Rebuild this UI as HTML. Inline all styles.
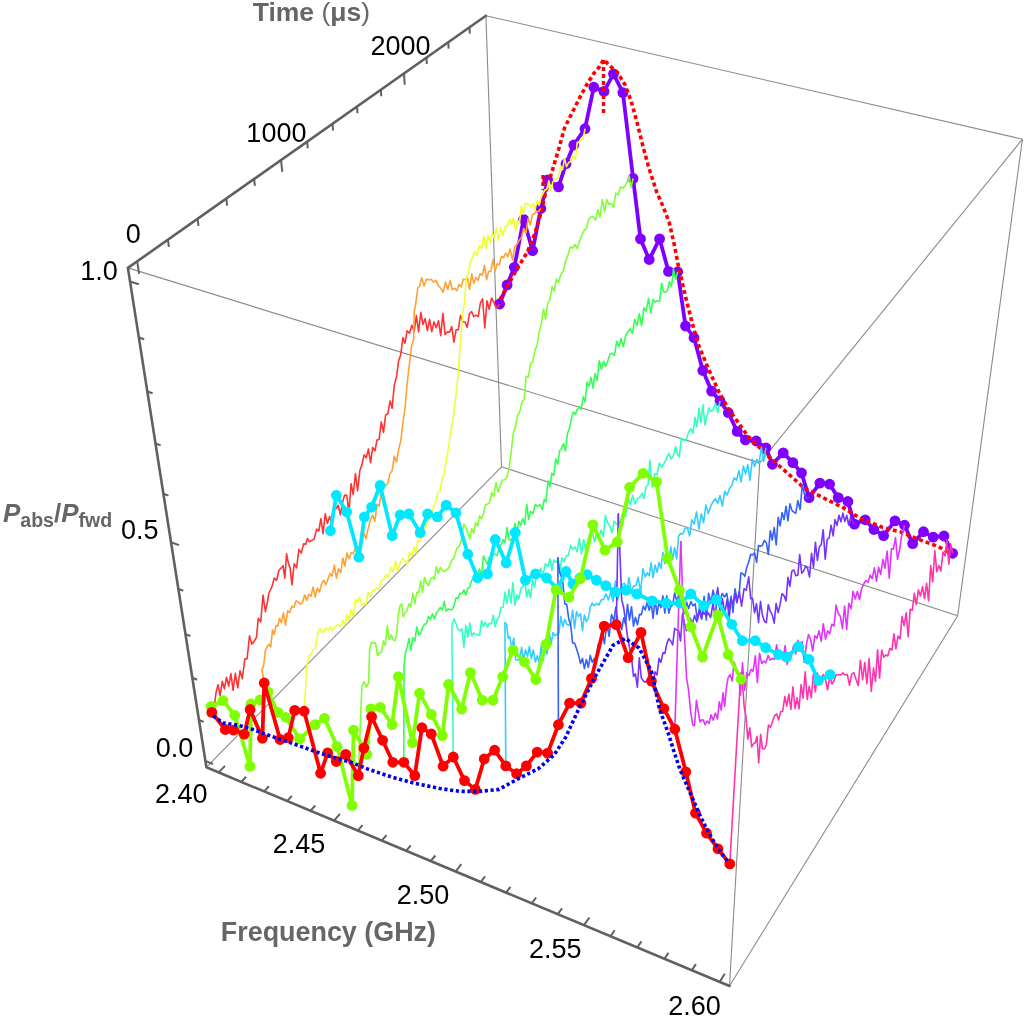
<!DOCTYPE html>
<html><head><meta charset="utf-8"><style>
html,body{margin:0;padding:0;background:#fff;}
svg{display:block;}
.tl{font-family:"Liberation Sans",Arial,sans-serif;font-size:27px;fill:#000;}
.al{font-family:"Liberation Sans",Arial,sans-serif;font-size:26.5px;font-weight:bold;fill:#666;}
.sub{font-size:19.5px;font-style:normal;}
</style></head><body>
<svg width="1025" height="1019" viewBox="0 0 1025 1019">
<rect width="1025" height="1019" fill="#fff"/>
<g stroke="#8a8a8a" stroke-width="1.1" fill="none"><line x1="127.9" y1="267.9" x2="759.7" y2="462.9"/><line x1="759.7" y1="462.9" x2="1022.4" y2="139.2"/><line x1="759.7" y1="462.9" x2="729.5" y2="986.0"/><line x1="485.9" y1="15.7" x2="1022.4" y2="139.2"/><line x1="485.9" y1="15.7" x2="501.5" y2="466.8"/><line x1="1022.4" y1="139.2" x2="957.7" y2="615.7"/><line x1="729.5" y1="986.0" x2="957.7" y2="615.7"/><line x1="501.5" y1="466.8" x2="957.7" y2="615.7"/><line x1="501.5" y1="466.8" x2="206.4" y2="767.3"/></g>
<polyline points="499.6,304.0 507.1,285.0 514.3,267.3 523.6,219.3 532.6,250.7 540.8,208.5 547.7,180.0 558.5,186.9 566.0,163.7 573.8,145.0 585.0,128.7 593.8,87.1 604.0,91.4 613.5,73.8 622.9,92.6 633.1,178.4 640.5,238.9 649.2,259.5 659.6,238.9 668.5,271.4 677.7,271.8 685.5,326.0 694.0,337.7 702.8,370.5 711.6,391.1 720.0,401.0 728.3,412.7 737.2,431.4 745.4,439.9 756.2,441.0 765.9,447.9 772.4,464.3 783.2,452.9 792.9,462.6 801.5,473.0 809.1,497.6 819.9,483.1 829.6,484.2 838.2,497.6 847.9,501.5 854.4,524.1 865.2,519.8 873.9,529.5 883.6,535.6 895.0,520.9 904.5,525.2 912.7,543.6 923.5,531.7 933.2,537.1 944.0,536.0 952.6,553.3" fill="none" stroke="#7f00ff" stroke-width="3.8" stroke-linejoin="round"/>
<g fill="#7f00ff"><circle cx="499.6" cy="304.0" r="5.4"/><circle cx="507.1" cy="285.0" r="5.4"/><circle cx="514.3" cy="267.3" r="5.4"/><circle cx="523.6" cy="219.3" r="5.4"/><circle cx="532.6" cy="250.7" r="5.4"/><circle cx="540.8" cy="208.5" r="5.4"/><circle cx="547.7" cy="180.0" r="5.4"/><circle cx="558.5" cy="186.9" r="5.4"/><circle cx="566.0" cy="163.7" r="5.4"/><circle cx="573.8" cy="145.0" r="5.4"/><circle cx="585.0" cy="128.7" r="5.4"/><circle cx="593.8" cy="87.1" r="5.4"/><circle cx="604.0" cy="91.4" r="5.4"/><circle cx="613.5" cy="73.8" r="5.4"/><circle cx="622.9" cy="92.6" r="5.4"/><circle cx="633.1" cy="178.4" r="5.4"/><circle cx="640.5" cy="238.9" r="5.4"/><circle cx="649.2" cy="259.5" r="5.4"/><circle cx="659.6" cy="238.9" r="5.4"/><circle cx="668.5" cy="271.4" r="5.4"/><circle cx="677.7" cy="271.8" r="5.4"/><circle cx="685.5" cy="326.0" r="5.4"/><circle cx="694.0" cy="337.7" r="5.4"/><circle cx="702.8" cy="370.5" r="5.4"/><circle cx="711.6" cy="391.1" r="5.4"/><circle cx="720.0" cy="401.0" r="5.4"/><circle cx="728.3" cy="412.7" r="5.4"/><circle cx="737.2" cy="431.4" r="5.4"/><circle cx="745.4" cy="439.9" r="5.4"/><circle cx="756.2" cy="441.0" r="5.4"/><circle cx="765.9" cy="447.9" r="5.4"/><circle cx="772.4" cy="464.3" r="5.4"/><circle cx="783.2" cy="452.9" r="5.4"/><circle cx="792.9" cy="462.6" r="5.4"/><circle cx="801.5" cy="473.0" r="5.4"/><circle cx="809.1" cy="497.6" r="5.4"/><circle cx="819.9" cy="483.1" r="5.4"/><circle cx="829.6" cy="484.2" r="5.4"/><circle cx="838.2" cy="497.6" r="5.4"/><circle cx="847.9" cy="501.5" r="5.4"/><circle cx="854.4" cy="524.1" r="5.4"/><circle cx="865.2" cy="519.8" r="5.4"/><circle cx="873.9" cy="529.5" r="5.4"/><circle cx="883.6" cy="535.6" r="5.4"/><circle cx="895.0" cy="520.9" r="5.4"/><circle cx="904.5" cy="525.2" r="5.4"/><circle cx="912.7" cy="543.6" r="5.4"/><circle cx="923.5" cy="531.7" r="5.4"/><circle cx="933.2" cy="537.1" r="5.4"/><circle cx="944.0" cy="536.0" r="5.4"/><circle cx="952.6" cy="553.3" r="5.4"/></g>
<polyline points="500.0,299.7 507.5,286.0 517.3,268.3 527.1,252.6 535.0,233.0 540.8,213.4 545.8,191.8 552.6,169.5 558.5,149.9 564.4,128.3 572.2,112.6 580.1,96.9 587.0,84.2 593.8,73.4 599.7,66.5 603.6,59.6 609.5,65.5 617.4,72.4 625.2,85.1 631.1,100.8 637.0,122.4 642.9,146.0 648.8,167.6 656.6,191.8 663.5,207.5 669.4,223.2 674.3,244.8 678.3,265.5 685.1,295.0 692.0,322.4 698.9,346.0 708.7,369.5 718.5,391.1 728.3,408.8 738.1,422.5 748.0,436.3 768.1,456.1 785.3,471.2 804.8,488.5 826.4,499.3 843.6,507.9 860.9,518.7 882.5,527.4 899.8,531.7 921.3,540.3 938.6,546.8 950.5,553.3" fill="none" stroke="#ff0000" stroke-width="3.6" stroke-dasharray="4 3"/>
<path d="M603.5,60 L603.5,113 M543,175 L543,190" stroke="#ff0000" stroke-width="3.4" stroke-dasharray="4 3"/>
<polyline points="211.8,712.4 214.1,707.9 215.9,693.3 218.0,684.7 220.1,695.6 222.3,681.2 224.4,688.9 226.5,677.2 228.7,686.0 230.9,673.6 233.1,690.3 235.3,673.4 237.7,687.8 240.0,670.7 242.4,678.7 244.8,659.1 247.1,658.6 249.5,635.8 251.8,644.1 254.2,641.4 256.5,637.2 258.3,618.2 260.7,621.9 263.0,595.1 265.4,611.7 267.1,603.8 268.9,593.0 270.7,589.5 272.4,585.4 274.2,578.1 276.6,580.4 278.9,570.3 281.3,567.9 283.1,565.7 284.8,578.1 286.6,553.9 288.4,563.4 290.1,568.0 291.9,584.8 294.2,563.8 296.6,567.8 298.9,549.3 301.2,553.1 303.6,543.9 305.6,544.4 307.5,538.4 309.5,541.9 311.9,540.2 314.2,539.1 316.6,529.1 318.8,531.0 320.9,518.5 323.1,533.7 325.2,513.7 327.4,523.4 329.6,516.6 331.7,523.6 333.9,509.1 336.0,508.8 338.2,505.3 340.4,514.8 342.5,502.5 344.6,495.0 346.8,495.4 348.9,512.2 351.1,483.7 353.2,494.5 355.4,473.6 357.6,490.6 359.8,470.8 361.9,464.8 364.1,454.8 366.2,457.9 368.4,449.1 370.6,462.6 372.7,447.4 374.9,451.0 377.0,440.0 379.1,439.4 381.3,421.8 383.5,432.4 385.6,415.0 387.8,413.8 390.0,401.1 392.1,408.2 394.3,385.1 396.5,376.8 398.6,361.0 400.8,354.5 402.9,337.6 405.0,343.1 407.1,330.7 409.5,333.2 411.8,325.2 414.2,331.4 416.4,315.6 418.6,332.0 420.8,312.3 423.0,324.5 425.2,318.6 427.4,330.7 429.6,319.4 431.8,331.6 434.0,321.8 436.2,327.8 438.5,320.8 440.7,335.7 442.9,313.2 445.1,334.6 447.3,331.9 449.5,332.2 451.7,326.6 453.9,342.2 456.1,329.8 458.3,329.6 460.5,315.4 462.8,321.7 465.0,322.0 467.2,327.3 469.4,313.8 471.6,311.5 473.8,316.6 476.0,315.2 478.2,316.7 480.4,302.9 482.6,298.8 484.8,327.9 487.0,300.7 489.2,309.2 491.5,298.0 493.7,302.0 495.7,305.9 497.6,307.6 499.6,304.0" fill="none" stroke="#ff3333" stroke-width="1.6" stroke-linejoin="round"/>
<polyline points="262.4,738.3 264.2,683.0" fill="none" stroke="#ffa133" stroke-width="1.6"/><polyline points="264.2,683.0 261.8,669.8 263.6,665.9 265.4,650.6 267.2,646.6 268.9,644.2 270.7,647.0 272.5,629.8 274.2,634.4 276.0,625.6 277.8,625.9 279.5,618.3 281.3,622.5 283.4,613.0 285.5,625.2 287.7,610.8 289.8,612.6 291.9,606.2 294.0,607.2 296.1,600.8 298.3,602.1 300.4,604.1 302.5,602.8 304.6,594.9 306.7,600.5 308.9,594.3 311.0,596.2 313.1,587.0 315.2,597.1 317.3,588.1 319.5,592.1 321.6,583.4 323.7,580.3 325.8,584.7 327.9,579.2 330.1,573.6 332.2,576.2 334.3,565.1 336.4,578.5 338.5,568.7 340.7,572.8 342.8,558.0 344.9,566.0 347.0,553.1 349.1,558.7 351.2,552.7 353.3,553.5 355.4,548.2 357.5,547.1 359.6,547.0 361.8,543.3 363.9,532.9 366.0,538.7 368.2,528.4 370.4,519.8 372.6,515.1 374.8,521.3 377.0,504.0 379.2,506.1 381.3,492.8 383.5,488.7 385.6,485.0 387.8,483.9 390.0,473.4 392.1,470.8 394.3,456.1 396.5,462.0 398.6,449.9 400.8,440.6 403.0,422.0 405.1,407.3 407.2,382.8 409.4,364.1 411.5,346.0 413.7,339.8 414.2,312.1 416.0,302.0 417.7,288.1 419.5,286.5 421.8,277.8 424.2,286.0 426.5,279.0 428.9,280.0 431.2,279.3 433.6,282.1 436.0,280.3 438.3,285.4 440.7,288.2 443.1,292.3 445.4,282.0 447.8,289.5 450.1,280.6 452.4,289.7 454.8,288.3 456.9,290.7 459.0,284.2 461.2,286.8 463.3,279.2 465.4,279.6 467.5,278.1 469.6,289.4 471.8,273.8 473.9,283.4 476.0,277.5 478.1,280.3 480.2,273.6 482.4,275.4 484.5,265.4 486.6,279.7 488.7,271.2 490.8,271.5 493.0,259.4 495.1,271.1 497.2,263.6 499.3,264.9 501.4,256.2 503.6,257.7 505.7,253.2 507.8,256.9 510.1,249.0 512.5,259.9 514.8,246.5 517.0,244.3 519.2,240.3 521.5,237.5 523.7,228.6 525.9,233.2 528.1,218.6 530.3,225.1 532.5,214.6 534.6,213.7 536.6,211.1 538.7,211.5 540.8,208.5" fill="none" stroke="#ffa133" stroke-width="1.6" stroke-linejoin="round"/>
<polyline points="304.1,711.2 306.9,666.0" fill="none" stroke="#efff33" stroke-width="1.6"/><polyline points="306.9,666.0 309.0,655.9 311.0,654.8 313.1,649.3 315.4,649.0 317.8,632.3 320.1,628.4 321.9,632.6 323.7,632.0 325.8,628.1 327.9,630.6 330.1,627.1 332.2,630.8 334.3,627.3 336.4,625.2 338.5,625.1 340.7,626.6 342.8,620.5 344.9,625.1 347.0,614.3 349.1,620.2 351.2,609.5 353.3,616.8 355.4,599.2 357.5,602.2 359.6,597.2 361.8,605.1 363.9,603.7 366.0,604.0 368.1,592.5 370.2,597.3 372.4,590.4 374.5,590.4 376.6,588.1 379.0,589.1 381.3,580.4 383.7,579.3 386.0,574.5 388.4,577.5 390.8,567.6 393.1,571.8 395.5,561.1 397.8,571.2 400.2,562.8 402.6,558.3 404.9,561.1 407.3,564.3 409.6,552.4 412.0,556.1 413.9,547.2 415.9,553.1 417.8,540.6 419.8,541.4 421.7,537.0 423.7,532.3 425.6,527.4 427.4,522.5 429.3,517.0 431.2,514.4 433.4,507.2 435.5,503.4 437.7,492.6 439.9,491.4 442.1,479.0 444.2,474.0 446.4,459.8 448.5,447.6 450.7,431.7 452.9,420.6 455.0,402.5 456.6,389.9 458.2,373.7 460.4,343.9 462.5,316.4 464.7,300.8 466.3,278.0 468.4,272.7 470.4,262.3 472.5,257.3 474.8,251.0 477.2,255.6 479.5,245.5 481.6,248.8 483.7,235.8 485.9,248.7 488.0,235.1 490.1,243.5 492.2,232.7 494.3,238.1 496.5,227.7 498.6,240.3 500.7,227.8 502.9,235.4 505.1,226.4 507.4,226.5 509.6,219.2 511.6,224.3 513.5,218.3 515.5,230.6 517.4,220.3 519.4,223.7 521.4,206.0 523.3,214.3 525.3,203.5 527.3,203.4 529.3,205.1 531.2,207.5 533.2,203.7 535.1,209.9 537.1,200.3 539.0,205.2 541.0,197.5 543.0,193.5 544.9,190.0 546.9,189.3 548.9,180.7 550.9,190.9 552.8,181.9 554.8,179.1 556.7,179.0 558.7,176.7 560.7,166.1 562.6,169.6 564.5,158.3 566.5,166.7 568.7,162.5 571.0,161.6 573.2,155.1 575.4,159.5 577.3,142.2 579.2,142.6 581.2,138.3 583.1,139.1 585.0,128.7" fill="none" stroke="#efff33" stroke-width="1.6" stroke-linejoin="round"/>
<polyline points="358.3,775.6 361.8,687.4" fill="none" stroke="#81ff33" stroke-width="1.6"/><polyline points="361.8,687.4 364.1,681.6 366.3,687.1 368.6,682.8 369.6,648.9 371.6,642.0 373.6,643.1 375.5,642.7 377.5,655.6 379.4,652.7 381.4,652.4 383.4,640.9 385.3,645.4 387.3,625.6 389.2,639.6 391.2,634.8 393.2,639.7 395.1,640.7 396.7,633.3 398.4,614.0 400.0,605.8 401.7,603.9 403.3,617.0 405.0,612.8 406.9,610.9 408.9,603.7 410.9,606.5 412.8,593.4 414.8,603.6 416.8,592.2 418.7,592.6 420.7,581.1 422.6,592.5 424.6,577.2 426.6,583.0 428.5,585.4 430.5,579.2 432.4,577.2 434.4,579.1 436.4,566.6 438.3,573.5 440.3,567.2 442.2,570.2 444.2,571.5 446.2,570.2 448.1,568.6 450.1,564.8 452.1,559.3 453.7,559.0 455.4,552.9 457.0,548.1 459.3,546.1 461.5,539.5 463.8,524.0 465.8,527.4 467.8,532.7 469.7,538.6 471.7,528.7 473.7,533.2 475.6,522.6 477.6,526.1 479.6,515.7 481.5,518.7 483.5,513.5 485.4,504.7 487.4,504.3 489.5,502.9 491.7,492.5 493.8,496.6 496.0,482.5 498.1,491.9 500.3,485.5 502.5,480.0 504.7,479.8 506.8,477.1 509.0,468.9 511.1,452.5 513.3,433.2 515.5,426.8 517.6,415.2 519.8,411.6 521.9,402.3 524.1,399.3 526.2,376.2 528.4,377.0 530.6,363.3 532.7,362.0 534.9,350.1 537.0,345.6 539.1,332.5 541.3,323.6 543.5,309.2 545.6,318.7 547.8,302.9 549.9,299.6 552.1,286.6 554.2,291.1 556.4,279.1 558.5,282.5 560.9,274.4 563.2,271.2 565.6,261.3 567.9,255.3 570.3,247.1 572.6,248.1 575.0,244.5 577.3,248.7 579.7,240.8 582.0,235.0 584.3,230.2 586.5,228.3 588.8,218.8 591.0,217.1 593.3,216.6 595.5,220.1 597.8,209.8 600.0,217.0 602.3,199.5 604.5,211.9 606.8,199.5 609.0,204.4 611.3,203.3 613.5,207.4 615.8,193.0 618.2,195.0 620.5,186.7 622.9,188.3 625.2,185.4 627.2,181.7 629.2,175.9 631.1,187.7 633.1,178.4" fill="none" stroke="#81ff33" stroke-width="1.6" stroke-linejoin="round"/>
<polyline points="403.8,762.3 404.0,666.8" fill="none" stroke="#33ff54" stroke-width="1.6"/><polyline points="404.0,666.8 405.4,653.1 406.9,648.3 408.9,638.5 410.9,650.3 412.8,637.7 414.8,641.2 416.8,626.9 418.7,634.7 420.7,633.5 422.6,627.1 424.6,624.3 426.5,623.5 428.5,616.3 430.4,619.6 432.4,613.8 434.4,618.8 436.4,612.9 438.3,610.4 440.3,607.5 442.3,610.0 444.2,601.3 446.2,611.1 448.1,608.9 450.1,609.6 452.1,609.7 454.0,605.9 456.0,597.7 457.9,598.4 459.9,593.4 461.9,593.7 463.9,590.0 465.8,595.0 467.8,588.3 469.7,586.8 471.7,580.2 473.6,578.3 475.6,570.2 477.6,575.5 479.5,568.9 481.5,576.1 483.5,555.7 485.5,560.6 487.4,564.5 489.4,557.0 491.3,558.2 493.3,554.4 495.3,554.4 497.2,555.4 499.2,547.6 501.1,544.4 503.1,539.8 505.1,542.6 507.0,527.5 509.0,539.7 510.9,540.0 512.9,536.8 514.9,523.4 516.8,533.0 518.8,521.2 520.8,525.4 522.8,518.5 524.7,524.8 526.7,504.4 528.6,519.5 530.6,511.3 532.9,513.6 535.3,504.4 537.6,506.5 540.0,504.5 542.3,509.7 544.2,499.3 546.0,501.8 547.9,481.0 549.9,486.7 551.8,473.3 553.8,475.5 555.7,459.1 557.7,464.2 559.6,450.8 561.6,448.4 563.5,443.7 565.5,450.9 567.5,433.4 569.5,428.2 571.4,418.3 573.4,412.0 575.3,414.2 577.3,409.4 579.3,406.5 581.2,409.5 583.2,396.7 585.1,402.1 587.1,382.1 589.1,386.1 591.0,377.3 593.0,388.1 595.0,373.4 597.1,380.7 599.2,360.8 601.4,369.3 603.5,361.4 605.6,366.3 607.8,360.9 610.0,354.1 612.2,353.3 614.5,355.5 616.7,341.3 618.9,346.7 621.1,338.4 623.3,346.7 625.6,335.8 627.9,331.6 630.1,328.9 632.4,333.3 634.7,319.4 637.0,325.5 639.3,313.8 641.6,325.8 643.9,307.8 646.2,311.4 648.5,298.3 650.8,313.1 653.0,299.5 655.2,302.1 657.4,300.8 659.6,301.2 661.6,283.3 663.5,291.6 665.5,292.5 667.4,290.7 669.4,281.6 671.5,286.5 673.5,269.1 675.6,279.3 677.7,271.8" fill="none" stroke="#33ff54" stroke-width="1.6" stroke-linejoin="round"/>
<polyline points="453.3,757.0 451.8,625.5" fill="none" stroke="#33ffc2" stroke-width="1.6"/><polyline points="451.8,625.5 454.0,619.1 456.0,623.8 457.9,629.0 459.9,630.9 461.9,628.8 463.9,647.3 465.8,625.3 467.8,637.2 469.8,622.8 471.7,636.0 473.7,632.8 475.6,634.5 477.6,634.6 479.6,635.3 481.5,620.5 483.4,626.3 485.4,622.3 487.4,626.9 489.3,623.2 491.3,623.9 493.2,615.3 495.2,626.5 497.2,619.2 499.1,616.9 501.1,607.5 503.1,607.2 505.1,592.1 507.0,603.5 509.0,589.3 510.9,603.0 512.9,582.6 514.9,605.3 516.8,594.9 518.8,599.0 520.8,588.8 522.8,586.3 524.7,580.2 526.7,596.7 528.6,589.2 530.6,597.8 532.5,579.9 534.5,587.1 536.5,574.5 538.4,575.0 540.7,567.9 543.0,575.2 545.4,563.7 547.7,566.8 550.0,558.7 551.9,570.2 553.8,560.0 555.8,562.2 557.7,560.1 559.6,573.2 561.8,557.7 564.0,561.9 566.2,555.7 568.4,555.7 570.5,545.4 572.7,549.3 574.9,546.8 577.1,551.8 579.3,538.6 581.5,553.9 583.7,539.6 585.8,550.1 588.0,539.4 590.2,532.9 592.4,530.7 594.5,541.8 596.7,533.8 598.9,537.5 601.1,530.1 603.3,536.7 605.4,515.4 607.6,522.8 609.8,525.9 612.0,532.7 614.1,521.0 616.3,523.8 618.5,523.2 620.9,520.5 623.2,512.4 625.6,516.4 627.9,498.8 630.3,504.8 632.7,495.4 635.0,504.0 637.4,498.8 639.7,497.1 642.1,493.4 644.0,498.4 646.0,487.1 648.0,485.5 649.9,460.2 652.3,487.2 654.6,473.8 657.0,474.6 659.3,463.2 661.7,467.1 664.1,463.5 666.4,458.4 668.8,453.3 671.1,458.9 673.5,455.8 675.5,446.7 677.4,454.3 679.3,456.8 681.3,438.2 683.7,440.7 686.0,440.3 688.4,432.9 690.7,428.9 693.1,433.1 695.0,417.3 697.0,426.8 699.0,408.4 700.9,422.6 702.9,404.7 704.9,424.8 706.8,416.9 708.8,407.8 710.8,411.3 713.1,410.3 715.4,403.4 717.7,412.5 720.0,401.0" fill="none" stroke="#33ffc2" stroke-width="1.6" stroke-linejoin="round"/>
<polyline points="505.8,765.9 504.9,622.1" fill="none" stroke="#33ceff" stroke-width="1.6"/><polyline points="504.9,622.1 506.5,624.3 508.2,638.2 509.8,636.5 511.8,649.1 513.7,638.0 515.7,659.7 517.7,659.8 519.6,660.2 521.6,647.4 523.5,660.6 525.5,649.8 527.5,656.3 529.4,646.5 531.4,658.7 533.3,649.8 535.3,661.9 537.3,655.7 539.2,663.1 541.2,645.6 543.1,660.5 545.1,648.3 547.1,654.1 549.1,630.9 551.0,644.4 553.0,632.6 555.0,635.9 556.9,634.1 558.9,633.0 560.8,616.5 562.8,626.7 564.8,619.2 566.7,624.0 568.7,625.4 570.7,623.9 572.6,610.2 574.6,628.5 576.5,611.6 578.5,616.5 580.5,613.9 582.5,630.7 584.4,615.0 586.4,621.6 588.4,618.2 590.3,607.2 592.2,603.2 594.2,605.7 596.6,603.6 598.9,605.1 601.3,599.9 603.6,599.4 606.0,593.9 608.4,599.8 610.7,592.2 613.1,601.6 615.4,581.0 617.8,599.8 620.0,589.8 622.3,584.6 624.5,583.1 626.8,592.0 629.0,577.6 631.3,593.1 633.5,585.8 635.8,585.7 638.2,577.3 640.5,592.7 642.9,568.6 645.2,576.8 647.2,572.9 649.2,575.7 651.1,562.9 653.1,577.7 655.1,565.1 657.1,572.4 659.0,562.3 661.0,568.5 662.9,552.4 664.9,563.7 666.9,552.0 668.8,561.0 670.8,546.8 672.7,559.6 674.7,547.5 676.7,559.0 678.6,536.1 680.6,533.6 682.8,534.0 685.1,528.5 687.3,527.5 689.6,536.0 691.8,519.9 694.2,524.2 696.5,511.9 698.9,529.1 701.2,513.8 703.6,522.7 705.9,504.9 708.3,513.6 710.6,506.6 713.0,501.7 715.3,498.7 717.7,503.2 720.0,495.6 722.4,506.3 724.7,491.2 727.1,495.1 729.5,488.4 731.8,485.2 734.2,477.7 736.5,480.2 738.9,470.6 741.1,481.9 743.3,466.0 745.6,473.9 747.8,464.6 750.0,480.2 752.3,459.0 754.5,466.6 756.8,459.2 759.1,463.4 761.4,447.4 763.6,461.5 765.9,447.9" fill="none" stroke="#33ceff" stroke-width="1.6" stroke-linejoin="round"/>
<polyline points="558.4,724.7 557.9,557.3" fill="none" stroke="#3360ff" stroke-width="1.6"/><polyline points="557.9,557.3 559.5,571.6 561.2,576.2 562.8,582.0 564.8,603.9 566.7,604.2 568.7,618.7 570.7,625.1 572.6,642.9 574.6,643.3 576.6,649.1 578.5,654.9 580.5,663.4 582.5,658.4 584.4,668.7 586.4,659.5 588.4,667.4 590.3,655.4 592.2,662.3 594.2,658.7 596.2,657.8 598.2,644.4 600.1,644.1 602.1,629.6 604.4,643.8 606.8,623.6 609.1,636.4 611.5,614.6 613.8,621.0 615.8,607.1 617.8,621.3 619.7,621.9 621.7,629.8 623.7,617.8 625.6,624.2 627.5,604.4 629.5,620.2 631.5,606.7 633.5,626.2 635.4,617.2 637.4,624.8 639.4,614.4 641.3,614.7 643.3,606.1 645.2,610.0 647.2,602.3 649.2,610.3 651.1,602.8 653.1,618.4 655.0,599.2 657.0,614.4 659.0,602.1 660.9,607.6 662.9,595.9 664.8,613.1 666.8,595.8 668.8,613.1 670.7,606.6 672.7,604.7 674.6,593.1 676.6,600.9 678.6,595.8 680.6,600.3 682.5,605.1 684.5,613.1 686.5,602.1 688.7,608.6 690.9,601.6 693.0,605.8 695.2,603.8 697.4,620.3 699.6,607.1 701.8,619.1 704.1,596.2 706.3,620.0 708.6,593.2 710.8,602.8 713.1,590.1 715.3,600.2 717.6,589.9 719.9,602.3 722.2,593.4 724.5,597.0 726.8,593.4 729.1,608.3 731.1,596.4 733.0,612.4 735.0,588.7 736.9,597.9 738.9,597.0 740.9,573.0 742.8,573.6 744.8,576.4 746.7,567.6 748.7,562.0 750.7,554.3 752.6,555.0 754.6,552.8 756.6,562.4 758.5,545.5 760.5,546.4 762.4,545.3 764.4,540.4 766.4,542.8 768.3,554.4 770.3,530.7 772.2,540.0 774.2,527.6 776.2,544.9 778.2,517.2 780.1,525.8 782.1,512.5 784.0,519.6 786.0,506.2 788.0,520.8 789.9,503.8 791.9,510.3 793.8,512.1 795.8,513.2 797.8,500.6 800.1,509.5 802.3,484.7 804.6,494.7 806.8,498.6 809.1,497.6" fill="none" stroke="#3360ff" stroke-width="1.6" stroke-linejoin="round"/>
<polyline points="616.3,624.7 618.3,513.5" fill="none" stroke="#7433ff" stroke-width="1.6"/><polyline points="618.3,513.5 620.0,555.3 621.7,599.8 623.7,607.8 625.6,621.6 627.6,637.5 629.5,647.3 631.5,657.4 633.5,676.5 635.4,673.8 637.4,687.3 639.3,657.7 641.3,677.9 643.3,680.8 645.2,682.2 647.2,680.3 649.2,675.2 651.2,675.5 653.1,683.7 655.0,671.8 657.0,675.0 659.0,658.4 660.9,662.3 662.9,652.9 664.9,653.4 666.8,643.9 668.8,638.7 670.8,641.0 672.7,644.8 674.6,628.3 676.6,630.0 678.6,630.2 680.5,640.9 682.5,613.8 684.5,623.4 686.5,630.8 688.4,625.7 690.3,618.2 692.3,624.3 694.6,615.5 696.8,621.9 699.1,610.9 701.3,617.9 703.6,612.2 705.9,615.5 708.3,612.9 710.6,617.6 713.0,603.3 715.3,617.6 717.7,587.6 720.0,613.3 722.4,598.5 724.7,613.4 727.1,599.6 729.1,618.2 731.0,599.6 733.0,603.7 734.9,593.5 736.9,602.8 739.3,591.4 741.6,606.1 744.0,588.8 746.3,590.2 748.7,576.9 750.7,598.8 752.6,598.4 754.6,612.8 756.5,603.6 758.5,622.7 760.5,601.3 762.4,615.0 764.4,621.3 766.3,622.7 768.3,604.7 770.3,611.4 772.2,614.6 774.2,623.1 776.1,603.6 778.1,612.7 780.1,604.2 782.0,593.7 784.0,595.6 786.0,600.9 788.0,577.4 789.9,586.4 791.8,571.1 793.8,570.0 795.8,575.6 797.8,575.3 799.7,554.6 801.7,573.2 803.7,571.0 805.6,566.1 807.5,568.1 809.5,577.0 811.5,553.2 813.5,567.1 815.4,542.2 817.4,560.4 819.4,546.7 821.3,544.4 823.2,529.7 825.2,559.2 827.2,539.3 829.2,537.9 831.1,525.2 833.1,535.9 835.0,519.6 837.0,525.4 839.0,515.2 840.9,521.8 842.9,513.1 844.8,521.4 846.8,515.3 848.7,525.0 850.6,516.9 852.5,521.9 854.4,524.1" fill="none" stroke="#7433ff" stroke-width="1.6" stroke-linejoin="round"/>
<polyline points="674.8,729.2 680.8,541.0" fill="none" stroke="#e233ff" stroke-width="1.6"/><polyline points="680.8,541.0 682.1,579.1 683.5,619.6 685.0,646.1 686.5,677.3 688.6,690.3 690.6,711.3 692.7,724.9 694.5,725.7 696.4,700.4 698.2,711.4 700.0,721.9 701.7,719.9 703.3,720.1 705.0,724.8 707.0,721.0 709.0,723.5 711.0,714.7 713.2,720.2 715.3,713.1 717.5,718.9 719.3,701.7 721.2,710.2 723.0,692.8 724.7,706.5 726.3,688.1 728.0,678.2 730.1,674.7 732.1,680.9 734.2,662.2 736.2,670.0 738.3,672.3 740.4,695.3 742.5,662.7 744.6,690.5 746.8,672.9 748.9,675.5 751.0,669.4 753.1,671.3 755.3,655.9 757.4,682.4 759.5,653.2 761.7,663.4 763.8,661.0 765.9,662.8 768.1,655.4 770.2,660.1 772.3,658.4 774.5,659.4 776.6,644.8 778.7,655.3 780.8,651.5 783.0,660.1 785.1,645.6 787.2,664.4 789.3,652.6 791.4,655.9 793.6,645.4 795.7,653.9 797.8,640.4 800.0,650.9 802.1,641.6 804.2,662.3 806.3,645.1 808.5,634.5 810.6,639.5 812.7,651.0 814.8,635.8 816.9,638.3 819.1,630.8 821.2,641.1 823.3,623.8 825.5,639.1 827.6,630.7 829.7,633.9 831.8,624.2 834.0,626.0 836.1,605.1 838.2,613.2 840.3,616.2 842.4,628.7 844.6,606.1 846.7,629.4 848.8,603.3 851.0,608.8 853.1,591.3 855.2,599.0 857.4,591.4 859.5,599.5 861.6,588.5 863.8,583.8 865.9,580.5 868.0,582.4 870.1,575.1 872.2,578.5 874.4,567.8 876.5,581.4 878.6,567.3 880.7,574.5 882.9,559.3 885.0,568.2 887.1,551.0 889.3,578.1 891.4,548.8 893.4,549.2 895.5,537.5 897.5,559.4 899.6,549.9 901.6,536.0 903.0,531.3 904.5,525.2" fill="none" stroke="#e233ff" stroke-width="1.6" stroke-linejoin="round"/>
<polyline points="729.8,863.9 740.8,672.7" fill="none" stroke="#ff33ad" stroke-width="1.6"/><polyline points="740.8,672.7 742.5,683.3 744.2,707.2 745.9,716.1 747.8,739.1 749.8,727.8 751.7,746.9 753.6,743.7 755.3,742.7 757.0,736.3 758.7,763.0 760.6,734.2 762.5,748.8 764.4,748.8 766.3,745.0 768.4,725.0 770.4,727.5 772.5,721.6 774.5,715.8 776.6,713.8 778.6,719.9 780.7,711.5 782.7,711.5 784.8,696.5 786.8,706.1 788.8,694.1 790.9,709.4 792.9,686.7 795.0,708.5 797.0,697.6 799.0,708.9 801.1,684.6 803.1,698.2 805.2,671.7 807.2,699.4 809.2,686.4 811.3,697.8 813.3,674.4 815.4,692.0 817.4,673.1 819.4,683.5 821.5,677.3 823.5,674.5 825.6,680.1 827.6,689.8 829.8,676.4 832.0,684.1 834.2,679.9 836.3,674.8 838.5,674.6 840.7,675.0 842.9,672.9 845.1,675.0 847.3,674.3 849.5,685.3 851.6,674.3 853.8,672.5 856.0,679.3 858.2,685.4 860.4,660.3 862.6,679.7 864.8,662.6 866.9,683.8 869.1,658.5 871.3,691.5 873.5,668.0 875.5,681.4 877.6,649.9 879.6,678.3 881.7,650.0 883.7,657.3 885.7,654.9 887.8,656.0 889.8,648.4 891.9,650.1 893.9,633.8 895.9,648.8 898.0,636.1 900.0,638.9 902.1,616.4 904.1,625.8 906.1,612.7 908.2,636.8 910.2,609.2 912.3,610.4 914.3,593.4 916.3,604.6 918.4,589.9 920.4,596.1 922.5,586.6 924.5,598.7 926.6,583.4 928.6,601.0 930.7,565.6 932.7,581.9 934.8,550.7 936.8,571.8 938.9,565.5 940.9,570.9 943.0,552.0 945.0,556.0 946.9,540.1 948.8,564.1 950.7,543.9 952.6,553.3" fill="none" stroke="#ff33ad" stroke-width="1.6" stroke-linejoin="round"/>
<polyline points="330.4,530.7 336.3,495.3 346.7,512.0 358.9,557.2 364.4,516.9 371.6,507.1 380.1,485.5 392.2,535.6 400.1,515.0 408.9,514.0 420.1,532.6 427.6,514.0 437.4,516.9 446.2,505.1 456.0,513.0 467.8,554.2 477.6,577.8 487.4,573.9 495.3,539.5 506.2,562.9 515.3,532.5 525.4,580.1 535.6,573.9 546.5,577.8 557.4,588.7 566.0,571.5 573.0,584.0 580.0,578.0 587.1,574.6 596.4,580.1 605.8,585.6 615.2,591.8 626.1,590.2 636.9,593.9 652.1,600.9 666.2,603.2 680.2,603.2 690.8,593.9 703.7,605.6 716.5,599.7 731.8,624.3 742.3,640.7 755.2,640.7 765.7,647.7 778.6,654.7 786.8,657.1 798.5,646.5 809.0,659.4 818.4,680.5 830.1,674.6" fill="none" stroke="#00e8ff" stroke-width="3.8" stroke-linejoin="round"/>
<g fill="#00e8ff"><circle cx="330.4" cy="530.7" r="5.4"/><circle cx="336.3" cy="495.3" r="5.4"/><circle cx="346.7" cy="512.0" r="5.4"/><circle cx="358.9" cy="557.2" r="5.4"/><circle cx="364.4" cy="516.9" r="5.4"/><circle cx="371.6" cy="507.1" r="5.4"/><circle cx="380.1" cy="485.5" r="5.4"/><circle cx="392.2" cy="535.6" r="5.4"/><circle cx="400.1" cy="515.0" r="5.4"/><circle cx="408.9" cy="514.0" r="5.4"/><circle cx="420.1" cy="532.6" r="5.4"/><circle cx="427.6" cy="514.0" r="5.4"/><circle cx="437.4" cy="516.9" r="5.4"/><circle cx="446.2" cy="505.1" r="5.4"/><circle cx="456.0" cy="513.0" r="5.4"/><circle cx="467.8" cy="554.2" r="5.4"/><circle cx="477.6" cy="577.8" r="5.4"/><circle cx="487.4" cy="573.9" r="5.4"/><circle cx="495.3" cy="539.5" r="5.4"/><circle cx="506.2" cy="562.9" r="5.4"/><circle cx="515.3" cy="532.5" r="5.4"/><circle cx="525.4" cy="580.1" r="5.4"/><circle cx="535.6" cy="573.9" r="5.4"/><circle cx="546.5" cy="577.8" r="5.4"/><circle cx="557.4" cy="588.7" r="5.4"/><circle cx="566.0" cy="571.5" r="5.4"/><circle cx="573.0" cy="584.0" r="5.4"/><circle cx="580.0" cy="578.0" r="5.4"/><circle cx="587.1" cy="574.6" r="5.4"/><circle cx="596.4" cy="580.1" r="5.4"/><circle cx="605.8" cy="585.6" r="5.4"/><circle cx="615.2" cy="591.8" r="5.4"/><circle cx="626.1" cy="590.2" r="5.4"/><circle cx="636.9" cy="593.9" r="5.4"/><circle cx="652.1" cy="600.9" r="5.4"/><circle cx="666.2" cy="603.2" r="5.4"/><circle cx="680.2" cy="603.2" r="5.4"/><circle cx="690.8" cy="593.9" r="5.4"/><circle cx="703.7" cy="605.6" r="5.4"/><circle cx="716.5" cy="599.7" r="5.4"/><circle cx="731.8" cy="624.3" r="5.4"/><circle cx="742.3" cy="640.7" r="5.4"/><circle cx="755.2" cy="640.7" r="5.4"/><circle cx="765.7" cy="647.7" r="5.4"/><circle cx="778.6" cy="654.7" r="5.4"/><circle cx="786.8" cy="657.1" r="5.4"/><circle cx="798.5" cy="646.5" r="5.4"/><circle cx="809.0" cy="659.4" r="5.4"/><circle cx="818.4" cy="680.5" r="5.4"/><circle cx="830.1" cy="674.6" r="5.4"/></g>
<polyline points="211.2,706.5 223.0,700.6 234.8,715.3 250.0,766.4 251.0,704.0 260.0,700.0 268.0,692.0 278.0,712.4 285.8,717.3 299.6,738.9 315.1,724.6 324.5,718.3 337.1,746.6 352.0,805.4 353.6,730.1 366.9,754.4 370.9,708.9 380.3,707.3 392.1,724.6 398.3,676.7 412.5,742.6 419.5,693.2 431.3,714.4 442.3,735.6 448.6,684.5 461.6,709.0 470.4,672.6 482.2,700.1 493.0,700.1 502.8,676.6 513.0,650.1 524.4,661.8 535.8,679.5 546.0,644.2 556.0,589.9 569.0,597.2 580.5,578.8 592.8,524.8 605.0,550.1 617.3,542.0 629.6,487.3 643.1,473.3 656.6,481.9 667.6,558.0 679.4,589.9 690.9,626.7 702.5,657.1 717.7,614.9 728.2,654.7 741.1,679.3" fill="none" stroke="#80ff00" stroke-width="3.8" stroke-linejoin="round"/>
<g fill="#80ff00"><circle cx="211.2" cy="706.5" r="5.4"/><circle cx="223.0" cy="700.6" r="5.4"/><circle cx="234.8" cy="715.3" r="5.4"/><circle cx="250.0" cy="766.4" r="5.4"/><circle cx="251.0" cy="704.0" r="5.4"/><circle cx="260.0" cy="700.0" r="5.4"/><circle cx="268.0" cy="692.0" r="5.4"/><circle cx="278.0" cy="712.4" r="5.4"/><circle cx="285.8" cy="717.3" r="5.4"/><circle cx="299.6" cy="738.9" r="5.4"/><circle cx="315.1" cy="724.6" r="5.4"/><circle cx="324.5" cy="718.3" r="5.4"/><circle cx="337.1" cy="746.6" r="5.4"/><circle cx="352.0" cy="805.4" r="5.4"/><circle cx="353.6" cy="730.1" r="5.4"/><circle cx="366.9" cy="754.4" r="5.4"/><circle cx="370.9" cy="708.9" r="5.4"/><circle cx="380.3" cy="707.3" r="5.4"/><circle cx="392.1" cy="724.6" r="5.4"/><circle cx="398.3" cy="676.7" r="5.4"/><circle cx="412.5" cy="742.6" r="5.4"/><circle cx="419.5" cy="693.2" r="5.4"/><circle cx="431.3" cy="714.4" r="5.4"/><circle cx="442.3" cy="735.6" r="5.4"/><circle cx="448.6" cy="684.5" r="5.4"/><circle cx="461.6" cy="709.0" r="5.4"/><circle cx="470.4" cy="672.6" r="5.4"/><circle cx="482.2" cy="700.1" r="5.4"/><circle cx="493.0" cy="700.1" r="5.4"/><circle cx="502.8" cy="676.6" r="5.4"/><circle cx="513.0" cy="650.1" r="5.4"/><circle cx="524.4" cy="661.8" r="5.4"/><circle cx="535.8" cy="679.5" r="5.4"/><circle cx="546.0" cy="644.2" r="5.4"/><circle cx="556.0" cy="589.9" r="5.4"/><circle cx="569.0" cy="597.2" r="5.4"/><circle cx="580.5" cy="578.8" r="5.4"/><circle cx="592.8" cy="524.8" r="5.4"/><circle cx="605.0" cy="550.1" r="5.4"/><circle cx="617.3" cy="542.0" r="5.4"/><circle cx="629.6" cy="487.3" r="5.4"/><circle cx="643.1" cy="473.3" r="5.4"/><circle cx="656.6" cy="481.9" r="5.4"/><circle cx="667.6" cy="558.0" r="5.4"/><circle cx="679.4" cy="589.9" r="5.4"/><circle cx="690.9" cy="626.7" r="5.4"/><circle cx="702.5" cy="657.1" r="5.4"/><circle cx="717.7" cy="614.9" r="5.4"/><circle cx="728.2" cy="654.7" r="5.4"/><circle cx="741.1" cy="679.3" r="5.4"/></g>
<polyline points="211.8,712.4 225.3,729.5 233.6,730.1 244.2,734.2 250.1,709.5 262.4,738.3 264.2,683.0 280.1,739.5 288.3,737.7 294.7,710.4 304.1,711.2 320.6,773.3 327.7,752.8 336.3,761.5 345.7,754.4 358.3,775.6 363.8,748.1 371.6,716.7 382.6,740.3 392.8,762.3 403.8,762.3 414.8,775.6 421.9,727.7 431.3,734.0 443.1,766.2 453.3,757.0 464.5,780.6 475.3,789.4 484.2,759.0 494.6,750.2 505.8,765.9 516.6,773.7 526.4,765.9 537.2,752.1 547.6,753.1 558.4,724.7 569.6,703.1 580.9,703.1 591.5,678.4 604.2,626.1 616.3,624.7 628.1,657.7 641.0,632.4 651.5,681.1 663.8,708.6 674.8,729.2 685.8,771.8 695.5,813.1 706.5,833.1 718.0,848.8 729.8,863.9" fill="none" stroke="#ff0000" stroke-width="3.8" stroke-linejoin="round"/>
<g fill="#ff0000"><circle cx="211.8" cy="712.4" r="5.4"/><circle cx="225.3" cy="729.5" r="5.4"/><circle cx="233.6" cy="730.1" r="5.4"/><circle cx="244.2" cy="734.2" r="5.4"/><circle cx="250.1" cy="709.5" r="5.4"/><circle cx="262.4" cy="738.3" r="5.4"/><circle cx="264.2" cy="683.0" r="5.4"/><circle cx="280.1" cy="739.5" r="5.4"/><circle cx="288.3" cy="737.7" r="5.4"/><circle cx="294.7" cy="710.4" r="5.4"/><circle cx="304.1" cy="711.2" r="5.4"/><circle cx="320.6" cy="773.3" r="5.4"/><circle cx="327.7" cy="752.8" r="5.4"/><circle cx="336.3" cy="761.5" r="5.4"/><circle cx="345.7" cy="754.4" r="5.4"/><circle cx="358.3" cy="775.6" r="5.4"/><circle cx="363.8" cy="748.1" r="5.4"/><circle cx="371.6" cy="716.7" r="5.4"/><circle cx="382.6" cy="740.3" r="5.4"/><circle cx="392.8" cy="762.3" r="5.4"/><circle cx="403.8" cy="762.3" r="5.4"/><circle cx="414.8" cy="775.6" r="5.4"/><circle cx="421.9" cy="727.7" r="5.4"/><circle cx="431.3" cy="734.0" r="5.4"/><circle cx="443.1" cy="766.2" r="5.4"/><circle cx="453.3" cy="757.0" r="5.4"/><circle cx="464.5" cy="780.6" r="5.4"/><circle cx="475.3" cy="789.4" r="5.4"/><circle cx="484.2" cy="759.0" r="5.4"/><circle cx="494.6" cy="750.2" r="5.4"/><circle cx="505.8" cy="765.9" r="5.4"/><circle cx="516.6" cy="773.7" r="5.4"/><circle cx="526.4" cy="765.9" r="5.4"/><circle cx="537.2" cy="752.1" r="5.4"/><circle cx="547.6" cy="753.1" r="5.4"/><circle cx="558.4" cy="724.7" r="5.4"/><circle cx="569.6" cy="703.1" r="5.4"/><circle cx="580.9" cy="703.1" r="5.4"/><circle cx="591.5" cy="678.4" r="5.4"/><circle cx="604.2" cy="626.1" r="5.4"/><circle cx="616.3" cy="624.7" r="5.4"/><circle cx="628.1" cy="657.7" r="5.4"/><circle cx="641.0" cy="632.4" r="5.4"/><circle cx="651.5" cy="681.1" r="5.4"/><circle cx="663.8" cy="708.6" r="5.4"/><circle cx="674.8" cy="729.2" r="5.4"/><circle cx="685.8" cy="771.8" r="5.4"/><circle cx="695.5" cy="813.1" r="5.4"/><circle cx="706.5" cy="833.1" r="5.4"/><circle cx="718.0" cy="848.8" r="5.4"/><circle cx="729.8" cy="863.9" r="5.4"/></g>
<polyline points="213.0,716.0 223.6,723.0 238.9,725.4 253.0,729.5 270.7,736.0 290.0,742.6 321.4,753.6 352.8,763.0 368.5,769.3 392.1,777.2 415.6,783.5 440.0,788.5 459.6,791.4 479.3,791.4 498.9,789.4 518.5,778.6 538.2,768.8 553.9,755.1 565.6,737.4 577.4,711.9 589.2,688.3 596.5,674.2 613.0,645.4 625.4,638.5 639.1,648.1 651.5,671.5 659.6,709.4 667.5,731.0 674.4,752.6 680.3,770.3 687.1,786.0 694.0,801.7 700.9,817.4 706.8,829.2 714.6,843.0 722.5,854.7 728.0,862.0" fill="none" stroke="#0000f0" stroke-width="3.6" stroke-dasharray="3.2 2.6"/>
<path d="M127.9,267.9 L485.9,15.7 M127.9,267.9 L206.4,767.3 M206.4,767.3 L729.5,986.0" stroke="#606060" stroke-width="2.6" fill="none" stroke-linecap="round" stroke-linejoin="round"/>
<path d="M205.4,760.9 L212.9,764.0 M199.0,720.0 L203.7,721.9 M192.3,677.8 L197.1,679.7 M185.5,634.1 L190.4,636.0 M178.3,588.9 L183.3,590.8 M171.0,542.2 L179.1,545.1 M163.4,493.7 L168.5,495.6 M155.5,443.5 L160.7,445.4 M147.3,391.5 L152.6,393.3 M138.8,337.5 L144.2,339.3 M130.0,281.5 L138.8,284.2 M137.2,261.4 L139.1,273.9 M167.9,239.7 L168.9,246.8 M197.6,218.8 L198.5,225.9 M226.3,198.6 L227.1,205.6 M254.1,179.0 L254.9,185.9 M281.0,160.0 L282.3,171.9 M307.1,141.6 L307.8,148.4 M332.5,123.8 L333.0,130.5 M357.0,106.5 L357.5,113.1 M380.9,89.7 L381.3,96.3 M404.0,73.4 L404.7,84.8 M426.5,57.6 L426.8,64.0 M448.3,42.2 L448.6,48.6 M469.5,27.2 L469.8,33.6 M218.7,772.4 L225.0,765.9 M241.2,781.9 L246.1,776.8 M264.1,791.4 L268.9,786.3 M287.1,801.1 L291.9,795.8 M310.4,810.8 L315.2,805.5 M334.0,820.6 L340.0,813.8 M357.8,830.6 L362.5,825.2 M381.8,840.7 L386.5,835.2 M406.1,850.8 L410.7,845.3 M430.7,861.1 L435.3,855.5 M455.6,871.5 L461.3,864.2 M480.7,882.0 L485.1,876.3 M506.1,892.6 L510.5,886.8 M531.7,903.3 L536.1,897.5 M557.7,914.2 L562.0,908.3 M583.9,925.1 L589.4,917.5 M610.5,936.2 L614.7,930.2 M637.3,947.5 L641.4,941.4 M664.5,958.8 L668.5,952.7 M691.9,970.3 L695.9,964.1 M719.7,981.9 L724.8,973.8" stroke="#606060" stroke-width="2" fill="none" stroke-linecap="butt"/>
<text class="tl" x="400.6" y="54.6" text-anchor="middle">2000</text>
<text class="tl" x="276.4" y="141.7" text-anchor="middle">1000</text>
<text class="tl" x="133.2" y="243.0" text-anchor="middle">0</text>
<text class="tl" x="99.1" y="280.1" text-anchor="middle">1.0</text>
<text class="tl" x="139.7" y="538.9" text-anchor="middle">0.5</text>
<text class="tl" x="174.6" y="756.8" text-anchor="middle">0.0</text>
<text class="tl" x="181.2" y="803.4" text-anchor="middle">2.40</text>
<text class="tl" x="299.0" y="852.5" text-anchor="middle">2.45</text>
<text class="tl" x="423.1" y="903.7" text-anchor="middle">2.50</text>
<text class="tl" x="555.2" y="958.0" text-anchor="middle">2.55</text>
<text class="tl" x="694.5" y="1015.3" text-anchor="middle">2.60</text>
<text class="al" x="311.4" y="21.1" text-anchor="middle">Time <tspan font-weight="normal">(</tspan>μs<tspan font-weight="normal">)</tspan></text>
<text class="al" x="328.4" y="941.3" text-anchor="middle" style="font-size:26.9px">Frequency (GHz)</text>
<text class="al" x="3" y="521.5" style="font-size:26px"><tspan font-style="italic">P</tspan><tspan class="sub" dy="5.3">abs</tspan><tspan dy="-5.3">/</tspan><tspan font-style="italic">P</tspan><tspan class="sub" dy="5.3">fwd</tspan></text>
</svg></body></html>
